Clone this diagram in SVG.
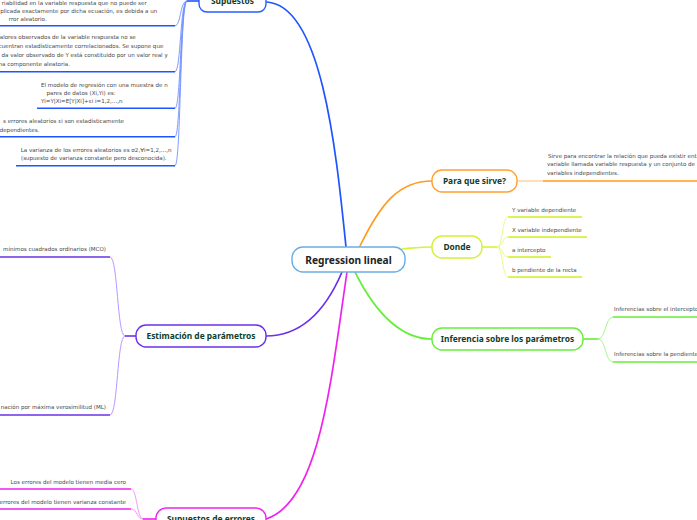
<svg xmlns="http://www.w3.org/2000/svg" width="697" height="520" viewBox="0 0 697 520">
<style>
.bg{fill:#ffffff}
.node{fill:#ffffff;stroke-width:1.4}
.nt{font-family:"Noto Sans","Open Sans",sans-serif;font-weight:bold;font-size:8.4px;fill:#0f3d2c;text-anchor:middle}
.ct{font-family:"Noto Sans","Open Sans",sans-serif;font-weight:bold;font-size:10.2px;fill:#222222;text-anchor:middle}
.st{font-family:"DejaVu Sans",Verdana,sans-serif;font-size:5.55px;fill:#464646}
.e{text-anchor:end}
.main{fill:none;stroke-width:1.7;stroke-linecap:round}
.fan{fill:none;stroke-width:0.9}
.ul{fill:none;stroke-width:1.6}
.blue{stroke:#1f55ff}
.bluel{stroke:#7090ff}
.org{stroke:#ff9c1e}
.orgl{stroke:#ffd8a6}
.yel{stroke:#d6f23c}
.yell{stroke:#e6f77e}
.yelu{stroke:#cfef1e}
.grn{stroke:#66ee3a}
.grnl{stroke:#9df57f}
.pur{stroke:#6a30ea}
.purl{stroke:#b08cff}
.mag{stroke:#ee22ee}
.magl{stroke:#f48cf4}
</style>
<rect class="bg" x="0" y="0" width="697" height="520"/>

<g id="connectors">
  <path class="main blue" d="M346,247 C336,150 322,6 267,2"/>
  <path class="main org" d="M360,246 C380,205 398,181 432,181"/>
  <path class="main yel" d="M402,249 C414,248 420,247 432,247"/>
  <path class="main grn" d="M355,272 C375,312 400,339 432,339"/>
  <path class="main pur" d="M342,272 C325,312 300,336 266,336"/>
  <path class="main mag" d="M347,272 C331,380 320,502 266,519"/>

  <path class="ul blue" d="M199,1 L187,1"/>
  <path class="fan bluel" d="M187,1 C180,1 181,25.7 175,25.7"/>
  <path class="fan bluel" d="M187,1 C180,1 181,71.7 175,71.7"/>
  <path class="fan bluel" d="M187,1 C180,1 181,108.3 175,108.3"/>
  <path class="fan bluel" d="M187,1 C180,1 181,136.7 175,136.7"/>
  <path class="fan bluel" d="M187,1 C180,1 181,165.7 175,165.7"/>
  <path class="ul blue" d="M0,25.7 H175"/>
  <path class="ul blue" d="M0,71.7 H175"/>
  <path class="ul blue" d="M37,108.3 H175"/>
  <path class="ul blue" d="M0,136.7 H175"/>
  <path class="ul blue" d="M16,165.7 H175"/>

  <path class="ul orgl" d="M517,181 H543"/>
  <path class="ul org" d="M543,181 H697"/>

  <path class="ul yel" d="M482,247 H497"/>
  <path class="fan yell" d="M497,247 C503,247 502,217 508,217"/>
  <path class="fan yell" d="M497,247 C503,247 502,237 508,237"/>
  <path class="fan yell" d="M497,247 C503,247 502,257 508,257"/>
  <path class="fan yell" d="M497,247 C503,247 502,277 508,277"/>
  <path class="ul yelu" d="M508,217 H582"/>
  <path class="ul yelu" d="M508,237 H587"/>
  <path class="ul yelu" d="M508,257 H551"/>
  <path class="ul yelu" d="M508,277 H582"/>

  <path class="ul grn" d="M583,339 H598"/>
  <path class="fan grnl" d="M598,339 C606,339 605,317 613,317"/>
  <path class="fan grnl" d="M598,339 C606,339 605,362 613,362"/>
  <path class="ul grn" d="M613,317 H697"/>
  <path class="ul grn" d="M613,362 H697"/>

  <path class="ul pur" d="M136,336 H125"/>
  <path class="fan purl" d="M125,336 C117,336 118,257 110,257"/>
  <path class="fan purl" d="M125,336 C117,336 118,415 110,415"/>
  <path class="ul pur" d="M0,257 H110"/>
  <path class="ul pur" d="M0,415 H110"/>

  <path class="ul mag" d="M156,519 H143"/>
  <path class="fan magl" d="M143,519 C137,519 137,489 131,489"/>
  <path class="fan magl" d="M143,519 C137,519 137,509 131,509"/>
  <path class="ul mag" d="M0,489 H131"/>
  <path class="ul mag" d="M0,509 H131"/>
</g>

<g id="node-central">
  <rect class="node" x="292" y="247" width="113" height="25" rx="11" stroke="#6aaee6"/>
  <text class="ct" x="348.5" y="263.6">Regression lineal</text>
</g>

<g id="node-supuestos">
  <rect class="node" x="199" y="-10" width="67" height="22" rx="8" stroke="#2a5cff"/>
  <text class="nt" x="232.5" y="4.2">Supuestos</text>
</g>
<g id="supuestos-children">
  <text class="st e" x="146.7" y="4.5">riabilidad en la variable respuesta que no puede ser</text>
  <text class="st e" x="157.3" y="12.8">plicada exactamente por dicha ecuación, es debida a un</text>
  <text class="st e" x="46.7" y="21">rror aleatorio.</text>

  <text class="st e" x="135.7" y="39.3">s valores observados de la variable respuesta no se</text>
  <text class="st e" x="163.3" y="47.8">cuentran estadísticamente correlacionados. Se supone que</text>
  <text class="st e" x="167.7" y="56.5">da valor observado de Y está constituido por un valor real y</text>
  <text class="st e" x="70" y="65.5">na componente aleatoria.</text>

  <text class="st" x="41" y="86.6">El modelo de regresión con una muestra de n</text>
  <text class="st" x="46.5" y="95">pares de datos (Xi,Yi)  es:</text>
  <text class="st" x="41" y="103.3">Yi=Y|Xi=E[Y|Xi]+εi i=1,2,…,n</text>

  <text class="st e" x="124" y="123.3">s errores aleatorios εi  son estadísticamente</text>
  <text class="st e" x="39.3" y="131.5">dependientes.</text>

  <text class="st" x="20.7" y="151.6">La varianza de los errores aleatorios es σ2,∀i=1,2,…,n</text>
  <text class="st" x="21" y="160">(supuesto de varianza constante pero desconocida).</text>
</g>

<g id="node-para">
  <rect class="node" x="432" y="170" width="85" height="22" rx="10" stroke="#ffa030"/>
  <text class="nt" x="474.5" y="184.3">Para que sirve?</text>
</g>
<g id="para-children">
  <text class="st" x="548" y="157.5"> Sirve para encontrar la relación que pueda existir ent</text>
  <text class="st" x="547" y="166.3">variable llamada variable respuesta y un conjunto de</text>
  <text class="st" x="547" y="175">variables independientes.</text>
</g>

<g id="node-donde">
  <rect class="node" x="432" y="236" width="50" height="22" rx="10" stroke="#d4f03a"/>
  <text class="nt" x="457" y="250.3">Donde</text>
</g>
<g id="donde-children">
  <text class="st" x="512" y="212">Y variable dependiente</text>
  <text class="st" x="512" y="232.4">X variable independiente</text>
  <text class="st" x="512" y="252">a intercepto</text>
  <text class="st" x="512" y="271.8">b pendiente de la recta</text>
</g>

<g id="node-inferencia">
  <rect class="node" x="432" y="328" width="151" height="22" rx="10" stroke="#66ee3a"/>
  <text class="nt" x="507.5" y="342.3">Inferencia sobre los parámetros</text>
</g>
<g id="inferencia-children">
  <text class="st" x="614" y="311.4">Inferencias sobre el intercepto</text>
  <text class="st" x="614" y="356.4">Inferencias sobre la pendiente</text>
</g>

<g id="node-estimacion">
  <rect class="node" x="136" y="325" width="130" height="22" rx="10" stroke="#6a30ea"/>
  <text class="nt" x="201" y="339.3">Estimación de parámetros</text>
</g>
<g id="estimacion-children">
  <text class="st e" x="106" y="251.4">mínimos cuadrados ordinarios (MCO)</text>
  <text class="st e" x="106" y="409.4">nación por máxima verosimilitud (ML)</text>
</g>

<g id="node-errores">
  <rect class="node" x="156" y="508" width="110" height="22" rx="10" stroke="#ee22ee"/>
  <text class="nt" x="211" y="522.3">Supuestos de errores</text>
</g>
<g id="errores-children">
  <text class="st e" x="126" y="484">Los errores del modelo tienen media cero</text>
  <text class="st e" x="126" y="504">errores del modelo tienen varianza constante</text>
</g>
</svg>
